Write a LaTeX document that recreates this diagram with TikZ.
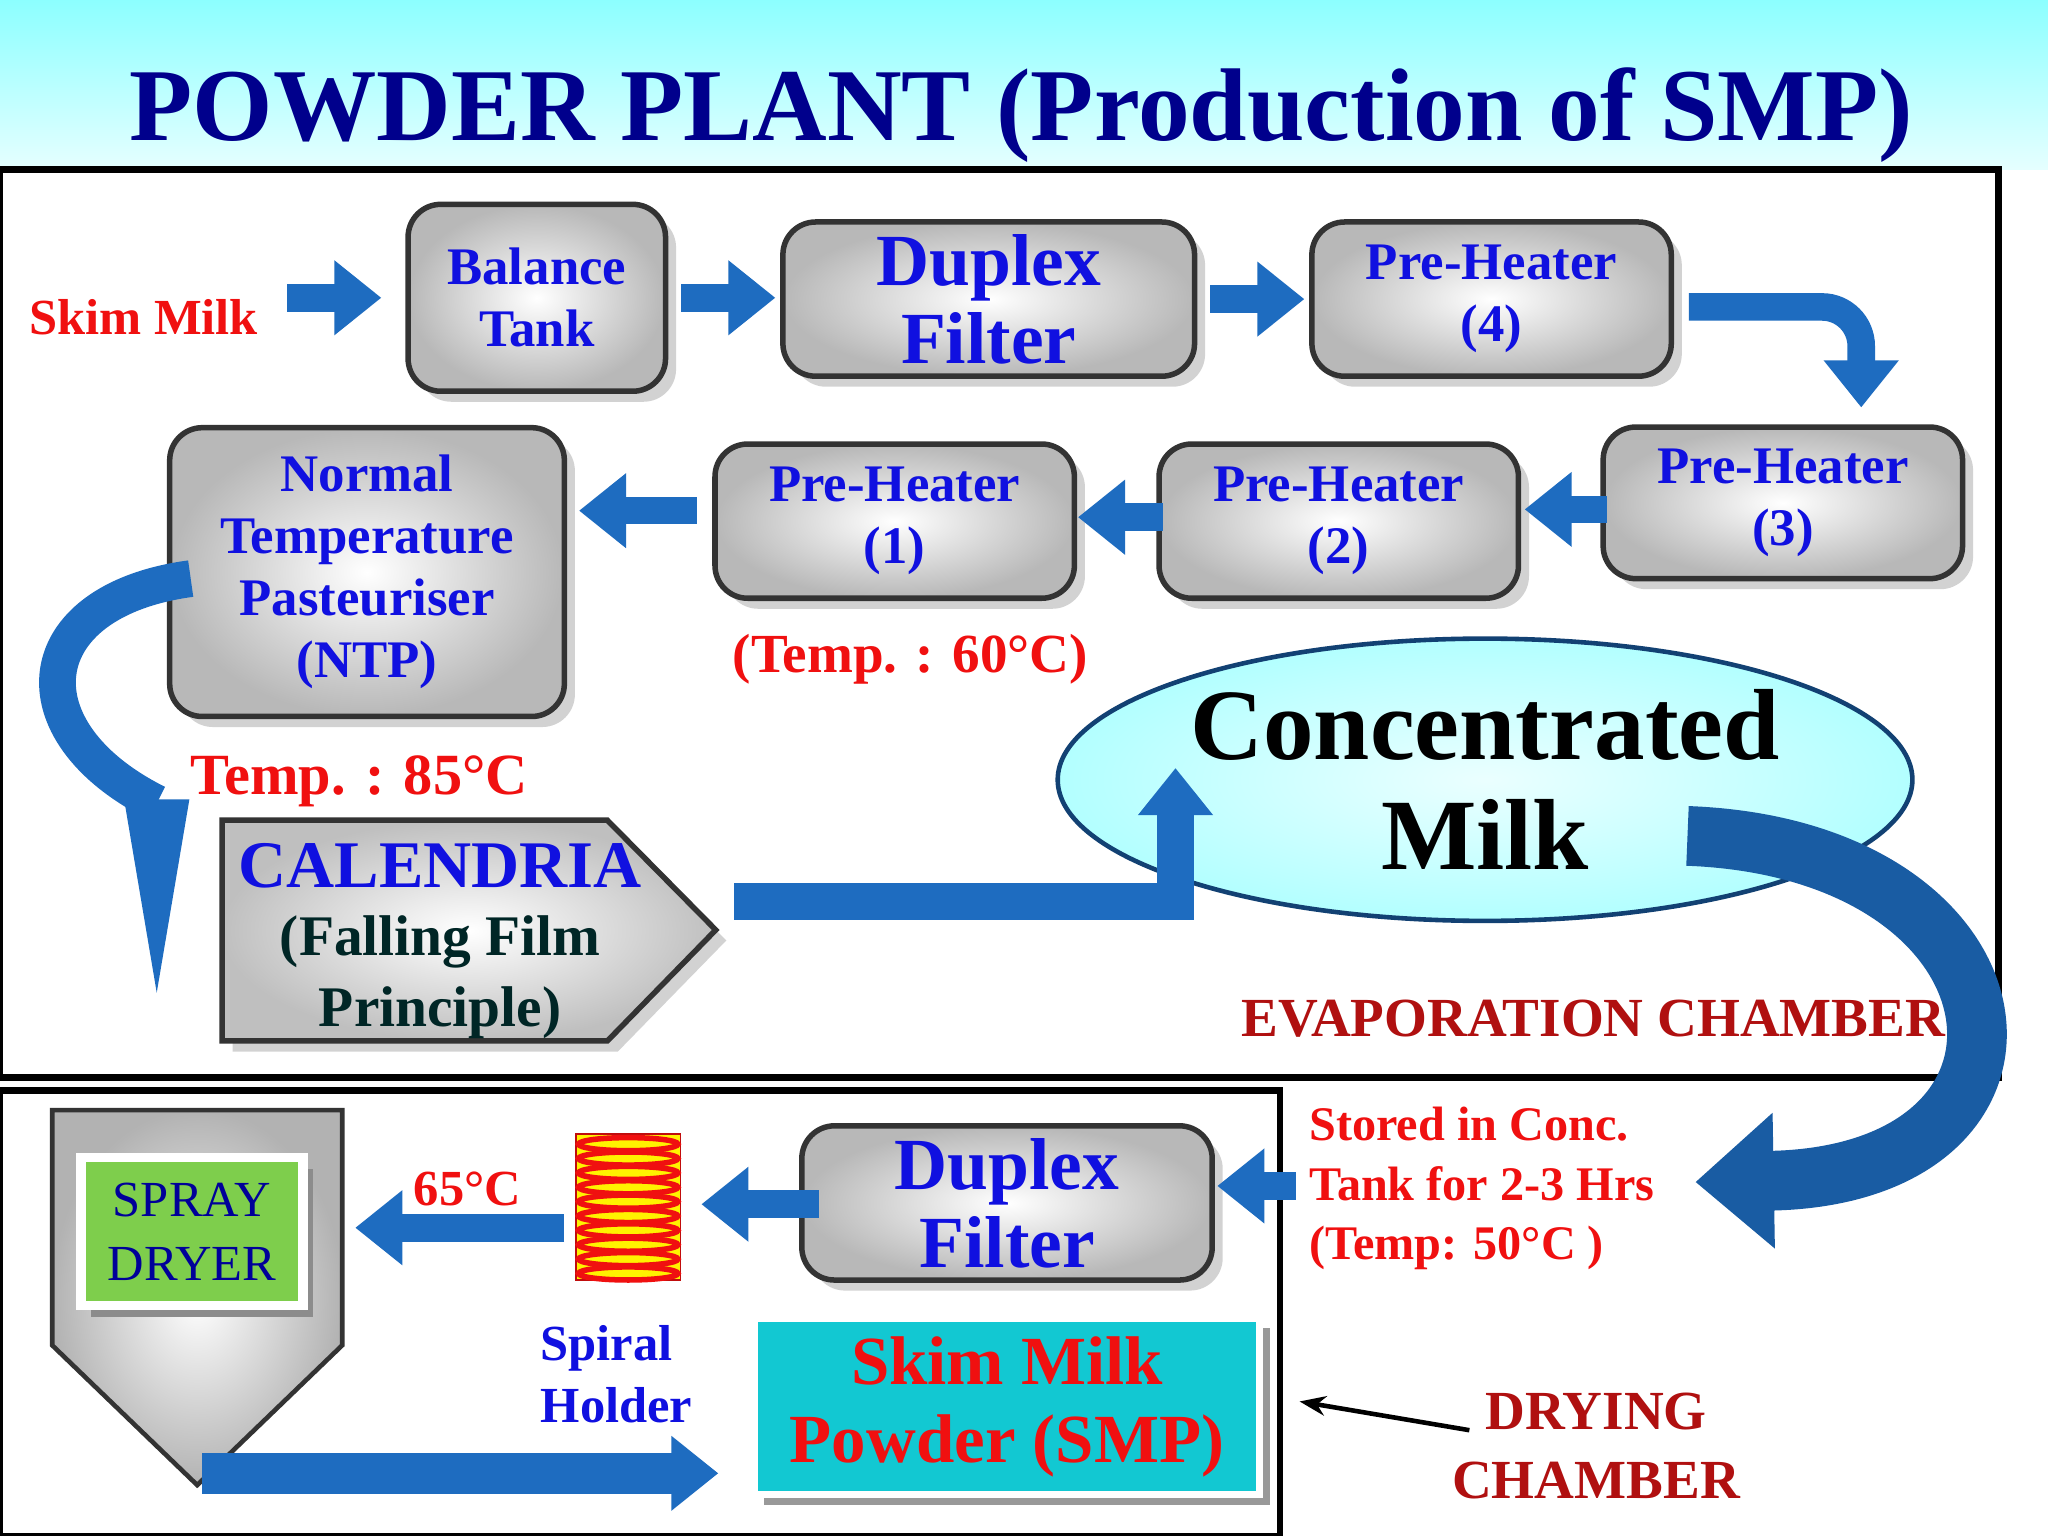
\documentclass[tikz,border=0pt]{standalone}
\usepackage{fontspec}
\setmainfont{Liberation Serif}
\usetikzlibrary{arrows.meta,shapes.geometric,shadows}
\definecolor{ab}{HTML}{1E6CC0}
\definecolor{tb}{HTML}{1010E0}
\definecolor{dr}{HTML}{B01010}
\definecolor{rr}{HTML}{F01010}
\definecolor{smpc}{HTML}{12C8D2}
\tikzset{
 box/.style={draw=black!80,line width=1.2pt,rounded corners=0.25cm,inner color=white,outer color=black!28,drop shadow={opacity=0.35}},
 bt/.style={text=tb,font=\bfseries\fontsize{11.5}{13.5}\selectfont,align=center},
 bt2/.style={text=tb,font=\bfseries\fontsize{16}{17}\selectfont,align=center},
 blk/.style={line width=6pt,-{Triangle[length=0.36cm,width=0.55cm]},color=ab},
 red/.style={text=rr,font=\bfseries\fontsize{11}{13}\selectfont},
}
\begin{document}
\begin{tikzpicture}[x=0.01cm,y=-0.01cm]
\useasboundingbox (0,0) rectangle (1568,1176);
\fill[white] (0,0) rectangle (1568,1176);
\shade[top color=cyan!45,bottom color=cyan!10] (0,0) rectangle (1568,130);
\node[text=blue!55!black,font=\bfseries\fontsize{22.5}{24}\selectfont] (title) at (782,88) {POWDER PLANT (Production of SMP)};
\draw[line width=1.5pt] (0,130) rectangle (1530,825);
\draw[line width=1.5pt] (0,835) rectangle (980,1176);
% boxes
\node[box,minimum width=1.97cm,minimum height=1.43cm] (bal) at (411,228) {};
\node[bt] at (bal) {Balance\\Tank};
\node[box,minimum width=3.15cm,minimum height=1.18cm] (dup) at (757,229) {};
\node[bt2] at (dup) {Duplex\\Filter};
\node[box,minimum width=2.75cm,minimum height=1.18cm] (p4) at (1142,229) {};
\node[bt] at (p4) {Pre-Heater\\(4)};
\node[box,minimum width=2.75cm,minimum height=1.16cm] (p3) at (1365,385) {};
\node[bt] at (p3) {Pre-Heater\\(3)};
\node[box,minimum width=2.75cm,minimum height=1.18cm] (p2) at (1025,399) {};
\node[bt] at (p2) {Pre-Heater\\(2)};
\node[box,minimum width=2.75cm,minimum height=1.18cm] (p1) at (685,399) {};
\node[bt] at (p1) {Pre-Heater\\(1)};
\node[box,minimum width=3.02cm,minimum height=2.21cm] (ntp) at (281,438) {};
\node[bt] at (ntp) {Normal\\Temperature\\Pasteuriser\\(NTP)};
\node[text=rr,font=\bfseries\fontsize{11}{13}\selectfont] (skim) at (110,243) {Skim Milk};
% arrows
\coordinate (a1) at (220,228); \coordinate (a1e) at (292,228);
\draw[blk] (a1) -- (a1e);
\draw[blk] (bal.east) ++(10,0) -- ++(72,0);
\draw[blk] (dup.east) ++(10,0) -- ++(72,0);
\draw[blk,rounded corners=0.3cm] (1293,235) -- (1425,235) -- (1425,312);
\draw[blk] (p3.west) ++(5,5) -- ++(-63,0);
\draw[blk] (p2.west) ++(5,-3) -- ++(-65,0);
\draw[blk] (p1.west) ++(-12,-8) -- ++(-90,0);
\coordinate (ctip) at (120,760);
\draw[color=ab,line width=8pt] (146,443) .. controls (20,460) and (10,560) .. (120,615);
\fill[ab] (95,612) -- (145,612) -- (ctip) -- cycle;
% calendria
\node[red,font=\bfseries\fontsize{12.7}{15}\selectfont] (t85) at (275,598) {Temp. : 85°C};
\node[red,font=\bfseries\fontsize{12}{14}\selectfont] (t60) at (697,505) {(Temp. : 60°C)};
\draw[draw=black!80,line width=1.2pt,inner color=white,outer color=black!25,drop shadow={opacity=0.35}] (170,628) -- (465,628) -- (548,712) -- (465,797) -- (170,797) -- cycle;
\node[text=tb,font=\bfseries\fontsize{14.5}{16}\selectfont] (cal) at (337,663) {CALENDRIA};
\node[text=black!70!teal,font=\bfseries\fontsize{12.5}{15.5}\selectfont,align=center] (ff) at (337,748) {(Falling Film\\Principle)};
\node[draw=ab!60!black,line width=1pt,ellipse,minimum width=6.54cm,minimum height=2.16cm,inner color=cyan!8,outer color=cyan!30] (con) at (1137,597) {};
\node[font=\bfseries\fontsize{22}{24}\selectfont,align=center] at (1137,597) {Concentrated\\Milk};
\draw[blk,line width=8pt] (562,690) -- (900,690) -- (900,588);
\draw[color=ab!85!black,line width=13pt,-{Triangle[length=0.6cm,width=1.0cm]}] (1292,640) .. controls (1560,650) and (1590,900) .. (1298,905);
\node[text=dr,font=\bfseries\fontsize{12}{14}\selectfont] (evap) at (1220,780) {EVAPORATION CHAMBER};
\node[red,font=\bfseries\fontsize{10.5}{13}\selectfont,align=left,anchor=north west] (st) at (990,835) {Stored in Conc.\\Tank for 2-3 Hrs\\(Temp: 50°C )};
% bottom
\node[box,minimum width=3.14cm,minimum height=1.18cm] (dup2) at (771,921) {};
\node[bt2] at (dup2) {Duplex\\Filter};
\draw[blk] (992,908) -- (932,908);
\draw[blk] (627,922) -- (537,922);
\node[draw=rr!80!black,fill=yellow,minimum width=0.8cm,minimum height=1.12cm,inner sep=0] (sp) at (481,924) {};
\foreach \i in {0,...,9}{\draw[rr,line width=1.2pt] (481,876+\i*11) ellipse [x radius=0.38cm, y radius=0.05cm];}
\draw[blk] (432,940) -- (272,940);
\node[red,font=\bfseries\fontsize{11}{13}\selectfont] (t65) at (358,910) {65°C};
\draw[draw=black!80,line width=1pt,inner color=white,outer color=black!30] (40,850) -- (262,850) -- (262,1030) -- (151,1137) -- (40,1030) -- cycle;
\fill[black!45] (70,895) rectangle (240,1008);
\node[draw=white,line width=2pt,fill=green!45!olive!70,minimum width=1.7cm,minimum height=1.13cm,align=center,text=blue!60!black,font=\fontsize{11}{14}\selectfont] (spr) at (147,943) {SPRAY\\DRYER};
\node[text=tb,font=\bfseries\fontsize{11}{13.5}\selectfont,align=left] (sh) at (472,1052) {Spiral\\Holder};
\draw[blk,line width=9pt] (155,1128) -- (550,1128);
\fill[black!40] (585,1017) rectangle (972,1152);
\node[fill=smpc,draw=white,line width=1.5pt,minimum width=3.87cm,minimum height=1.35cm,text=rr,font=\bfseries\fontsize{15}{17}\selectfont,align=center] (smp) at (771,1077) {Skim Milk\\Powder (SMP)};
\node[text=dr,font=\bfseries\fontsize{12}{15}\selectfont,align=center] (dc) at (1222,1107) {DRYING\\CHAMBER};
\draw[line width=1pt,-{Stealth[open,length=0.2cm]}] (1125,1095) -- (995,1073);
\end{tikzpicture}
\end{document}
